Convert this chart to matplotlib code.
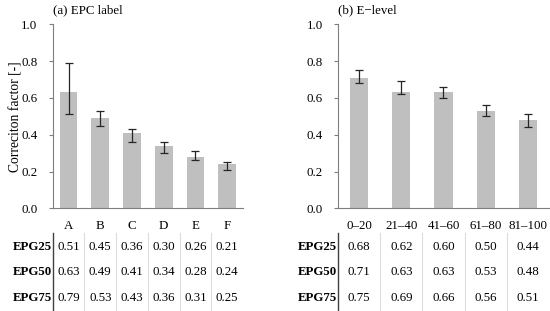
import matplotlib
matplotlib.use("Agg")
import matplotlib.pyplot as plt
from matplotlib.lines import Line2D
import numpy as np

plt.rcParams['font.family'] = ['Liberation Serif', 'DejaVu Serif']

epc_labels = ['A', 'B', 'C', 'D', 'E', 'F']
epc_p25 = [0.51, 0.45, 0.36, 0.30, 0.26, 0.21]
epc_p50 = [0.63, 0.49, 0.41, 0.34, 0.28, 0.24]
epc_p75 = [0.79, 0.53, 0.43, 0.36, 0.31, 0.25]

el_labels = ['0–20', '21–40', '41–60', '61–80', '81–100']
el_p25 = [0.68, 0.62, 0.60, 0.50, 0.44]
el_p50 = [0.71, 0.63, 0.63, 0.53, 0.48]
el_p75 = [0.75, 0.69, 0.66, 0.56, 0.51]

row_names = ['EPG25', 'EPG50', 'EPG75']
yticks = [0.0, 0.2, 0.4, 0.6, 0.8, 1.0]

W, H = 550, 311
fig = plt.figure(figsize=(5.5, 3.11), dpi=100)

def fx(px):
    return px / W

def fy(py):
    return 1 - py / H

ax_top, ax_bot = 24.3, 208.3
axL = fig.add_axes([fx(52.7), fy(ax_bot), fx(243 - 52.7), (ax_bot - ax_top) / H])
axR = fig.add_axes([fx(338), fy(ax_bot), fx(549 - 338), (ax_bot - ax_top) / H])

bar_color = '#bfbfbf'
axis_color = '#7f7f7f'
fs = 9.3

def ay(py):
    return -(py - ax_bot) / (ax_bot - ax_top)

def panel(ax, labels, p25, p50, p75, width, title, ylabel=None):
    x = np.arange(len(labels))
    p50a = np.array(p50)
    err = [p50a - np.array(p25), np.array(p75) - p50a]
    ax.bar(x, p50a, width=width, color=bar_color, zorder=2)
    ax.errorbar(x, p50a, yerr=err, fmt='none', ecolor='#262626', elinewidth=0.9,
                capsize=3, capthick=0.9, zorder=3)
    ax.set_xlim(-0.5, len(labels) - 0.5)
    ax.set_ylim(0, 1.0)
    ax.set_yticks(yticks)
    ax.set_yticklabels([f'{v:.1f}' for v in yticks], fontsize=fs)
    ax.set_xticks([])
    for s in ['top', 'right']:
        ax.spines[s].set_visible(False)
    for s in ['left', 'bottom']:
        ax.spines[s].set_color(axis_color)
        ax.spines[s].set_linewidth(0.8)
    ax.tick_params(axis='y', length=3, width=0.8, color=axis_color, pad=8)
    ax.text(0.0, ay(10.7), title, transform=ax.transAxes, fontsize=fs,
            ha='left', va='center')
    if ylabel:
        ax.set_ylabel(ylabel, fontsize=9.8)
        ax.yaxis.set_label_coords((22 - 52.7) / (243 - 52.7), 0.5)
    tr = ax.get_xaxis_transform()
    for i, lab in enumerate(labels):
        ax.text(i, ay(226), lab, transform=tr, ha='center', va='center',
                fontsize=fs, clip_on=False)
    rows = [p25, p50, p75]
    row_py = [246.7, 272, 298]
    for r, (name, vals, py) in enumerate(zip(row_names, rows, row_py)):
        ax.text(-0.5 - 0.03 * len(labels) / 6, ay(py), name, transform=tr, ha='right', va='center',
                fontsize=fs, fontweight='bold', clip_on=False)
        for i, v in enumerate(vals):
            ax.text(i, ay(py), f'{v:.2f}', transform=tr, ha='center', va='center',
                    fontsize=fs, clip_on=False)
    y0, y1 = ay(233), ay(311)
    ax.add_line(Line2D([-0.5, -0.5], [y0, y1], transform=tr, color='#404040',
                       lw=1.0, clip_on=False))
    for i in range(1, len(labels)):
        ax.add_line(Line2D([i - 0.5, i - 0.5], [y0, y1], transform=tr,
                           color='#dcdcdc', lw=0.8, clip_on=False))

panel(axL, epc_labels, epc_p25, epc_p50, epc_p75, 0.56, '(a) EPC label',
      ylabel='Correciton factor [-]')
panel(axR, el_labels, el_p25, el_p50, el_p75, 0.43, '(b) E−level')

fig.savefig('out.png', dpi=100)
